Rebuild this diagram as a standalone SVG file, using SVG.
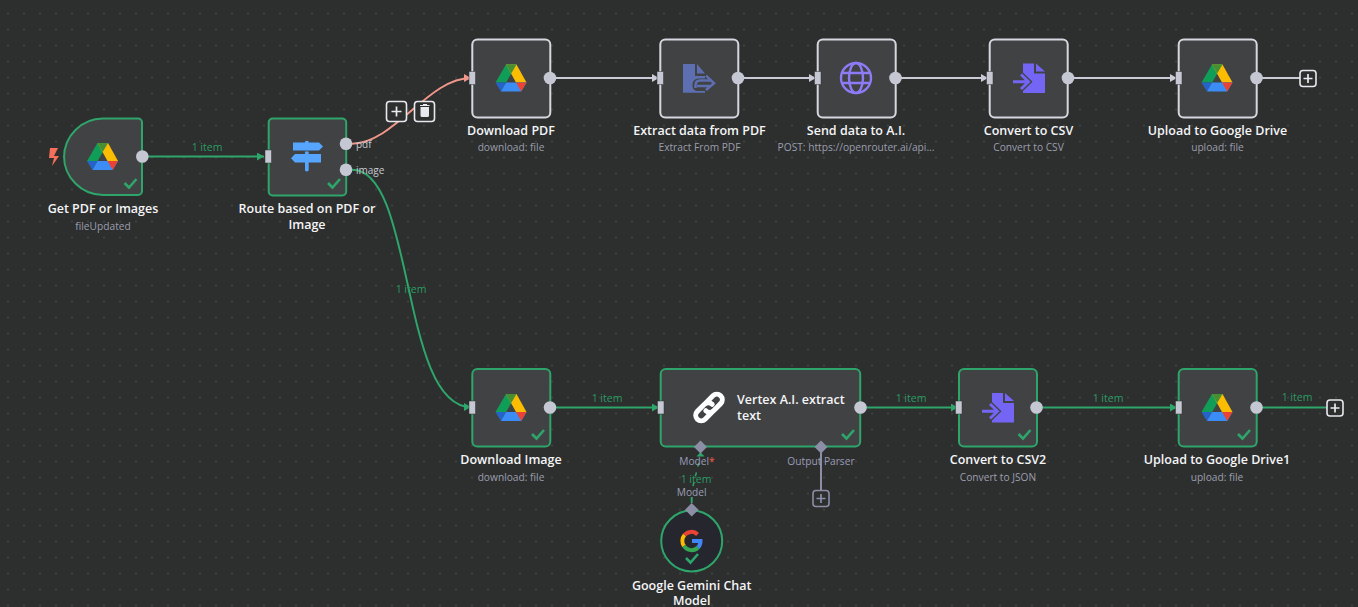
<svg xmlns="http://www.w3.org/2000/svg" width="1358" height="607" viewBox="0 0 1358 607">
<style>
text{font-family:"Open Sans","Noto Sans","Liberation Sans",sans-serif}
.card{fill:#414244;stroke:#d6d8df;stroke-width:2}
.ok{fill:#414244;stroke:#2ea56a;stroke-width:2}
.title{font-size:12.5px;font-weight:600;fill:#f4f5f7;text-anchor:middle}
.sub{font-size:10.2px;fill:#9b9fad;text-anchor:middle}
.lbl{font-size:10.2px;fill:#9a9db8;text-anchor:middle}
.item{font-size:10.5px;fill:#2a9c63;text-anchor:middle}
.port{font-size:10px;fill:#c8cad0}
.out{fill:#c5c8d3}
.in{fill:#c5c8d3;stroke:#333;stroke-width:.5}
.w{fill:none;stroke:#c9ccd6;stroke-width:2}
.g{fill:none;stroke:#2ea56a;stroke-width:2}
.check{fill:none;stroke:#2ea56a;stroke-width:2.6}
.btn{fill:#2d2e2e;stroke:#e8e9ee;stroke-width:1.6}
.pl{stroke:#e8e9ee;stroke-width:1.7;fill:none}
</style>
<defs>
<pattern id="dots" width="16" height="16" patternUnits="userSpaceOnUse" x="-1" y="4.6"><rect x="8.4" y="8.4" width="1.2" height="1.2" fill="#5c5d5e"/></pattern>
<marker id="ah-w" markerWidth="8" markerHeight="10" refX="7" refY="4" orient="auto" markerUnits="userSpaceOnUse"><path d="M0 0L7 4L0 8Z" fill="#c9ccd6"/></marker>
<marker id="ah-g" markerWidth="8" markerHeight="10" refX="7" refY="4" orient="auto" markerUnits="userSpaceOnUse"><path d="M0 0L7 4L0 8Z" fill="#2ea56a"/></marker>
<marker id="ah-r" markerWidth="8" markerHeight="10" refX="7" refY="4" orient="auto" markerUnits="userSpaceOnUse"><path d="M0 0L7 4L0 8Z" fill="#f0978a"/></marker>
<symbol id="drive" viewBox="0 0 32 28" overflow="visible">
<path d="M10.5 0H21L10.6 18H0Z" fill="#0f9d58"/>
<path d="M10.5 0H21L31 18H20.5Z" fill="#fbbc04"/>
<path d="M0 18H10.6L5.4 27Z" fill="#2563c9"/>
<path d="M10.6 18H31L25.7 27H5.4Z" fill="#3b8cf5"/>
<path d="M20.5 18H31L25.7 27Z" fill="#ea4335"/>
<path d="M10.5 0H21L15.7 9Z" fill="#0b8043" opacity=".75"/>
</symbol>
<symbol id="conv" viewBox="0 0 32 30" overflow="visible">
<path d="M10 0H21V10H32V29.500H10V27.500L19.500 18.300L10 9Z" fill="#7565f5"/>
<path d="M23 0L32 8H23Z" fill="#7565f5"/>
<path d="M0 18.300H15M8 11L15.500 18.300L8 25.500" fill="none" stroke="#7565f5" stroke-width="3"/>
</symbol>
</defs>
<rect width="1358" height="607" fill="#2d2e2e"/>
<rect width="1358" height="607" fill="url(#dots)"/>
<g id="connectors">
<path class="g" d="M148 156.500H264" marker-end="url(#ah-g)"/>
<path d="M352 143.700C395 143 428 78 471 78" fill="none" stroke="#f0978a" stroke-width="2" marker-end="url(#ah-r)"/>
<path class="g" d="M352 169.700C415 169 400 407 471 407" marker-end="url(#ah-g)"/>
<path class="w" d="M556 78H659" marker-end="url(#ah-w)"/>
<path class="w" d="M744 78H816" marker-end="url(#ah-w)"/>
<path class="w" d="M901 78H988" marker-end="url(#ah-w)"/>
<path class="w" d="M1073 78H1177" marker-end="url(#ah-w)"/>
<path class="w" d="M1262 78H1300"/>
<path class="g" d="M556 407.500H659" marker-end="url(#ah-g)"/>
<path class="g" d="M866 407.500H958" marker-end="url(#ah-g)"/>
<path class="g" d="M1042 407.500H1177" marker-end="url(#ah-g)"/>
<path class="g" d="M1262 407.500H1327"/>
<path class="g" d="M691.700 503V497"/>
<path d="M693 486L699 462" fill="none" stroke="#2ea56a" stroke-width="1.500" stroke-dasharray="4 6"/>
<path d="M696.500 456.500H704.500L700.500 452Z" fill="#2ea56a"/>
<path d="M821 452V490" fill="none" stroke="#8c8ea6" stroke-width="2"/>
<text class="item" x="207" y="150.500">1 item</text>
<text class="item" x="411" y="292.500">1 item</text>
<text class="item" x="607" y="401.500">1 item</text>
<text class="item" x="911" y="401.500">1 item</text>
<text class="item" x="1108" y="401.500">1 item</text>
<text class="item" x="1297" y="401">1 item</text>
<text class="item" x="696" y="482.500">1 item</text>
</g>
<g id="get-pdf">
<path d="M50 148L58 148L54 156L59 156L52 166L54 158L49 158Z" fill="#f5705a"/>
<path class="ok" d="M103 118.500H138a4 4 0 0 1 4 4V191a4 4 0 0 1-4 4H103a39 39 0 0 1-39-39V157.500a39 39 0 0 1 39-39Z"/>
<use href="#drive" x="87" y="143" width="32" height="28"/>
<path class="check" d="M124.500 183L129 187.500L136.500 179"/>
<circle class="out" cx="142.300" cy="156.500" r="6.300"/>
<text class="title" x="103" y="213">Get PDF or Images</text>
<text class="sub" x="103" y="230">fileUpdated</text>
</g>
<g id="route">
<rect class="ok" x="268.700" y="118.500" width="77.500" height="77" rx="4"/>
<rect class="in" x="265" y="150" width="6.500" height="13"/>
<path d="M293 142.500H305V141.500Q306.800 140 308.700 141.500V142.500H319L323 146.500L319 150.500H293Z M295 154H305V151.500H308.700V154H321V162.500H308.700V170.500Q306.800 172.500 305 170.500V162.500H295L291 158.300Z" fill="#56a6ff"/>
<path class="check" d="M328 183L332.500 187.500L340 179"/>
<circle class="out" cx="346" cy="143.700" r="6.300"/>
<circle class="out" cx="346" cy="169.700" r="6.300"/>
<text class="port" x="356" y="147.500">pdf</text>
<text class="port" x="356" y="173.500">image</text>
<text class="title" x="307" y="213"><tspan x="307">Route based on PDF or</tspan><tspan x="307" dy="16">Image</tspan></text>
</g>
<g id="edge-tools">
<rect class="btn" x="386.500" y="101.500" width="20" height="20" rx="3"/>
<path class="pl" d="M391.500 111.500H401.500M396.500 106.500V116.500"/>
<rect class="btn" x="414.500" y="101.500" width="20" height="20" rx="3"/>
<path d="M420.500 107H429V115.500a1.500 1.500 0 0 1-1.500 1.500H422a1.500 1.500 0 0 1-1.500-1.500Z M420 105H429.500V106H420Z M423 104H427V105H423Z" fill="#e8e9ee"/>
</g>
<g id="download-pdf">
<rect class="card" x="472.300" y="39.500" width="78" height="78" rx="5"/>
<rect class="in" x="469" y="71.500" width="6.500" height="13"/>
<use href="#drive" x="495.500" y="64.500" width="32" height="28"/>
<circle class="out" cx="550" cy="78" r="6.300"/>
<text class="title" x="511" y="135">Download PDF</text>
<text class="sub" x="511" y="151">download: file</text>
</g>
<g id="extract">
<rect class="card" x="660.300" y="39.500" width="78" height="78" rx="5"/>
<rect class="in" x="657" y="71.500" width="6.500" height="13"/>
<path d="M683 64H695V76H705V78.500H699C694.500 78.500 692.500 81.500 692.500 85.500C692.500 89 694.500 90.500 697 91H705V92.700H683Z M697 64L705 73.500H697Z" fill="#5d6fb0"/>
<path d="M711 80.500H700C697 80.500 695.500 82.500 695.500 85.500V88M697 86H711M706 75.700L714 83.300L706 90" fill="none" stroke="#5d6fb0" stroke-width="2.500"/>
<circle class="out" cx="738" cy="78" r="6.300"/>
<text class="title" x="699.500" y="135">Extract data from PDF</text>
<text class="sub" x="699.500" y="151">Extract From PDF</text>
</g>
<g id="send">
<rect class="card" x="817.700" y="39.500" width="78" height="78" rx="5"/>
<rect class="in" x="814.500" y="71.500" width="6.500" height="13"/>
<g fill="none" stroke="#8b7cf6" stroke-width="2.400"><circle cx="856" cy="78" r="15"/><ellipse cx="856" cy="78" rx="7" ry="15"/><path d="M842.500 73H869.500M842.500 83H869.500"/></g>
<circle class="out" cx="895.500" cy="78" r="6.300"/>
<text class="title" x="856" y="135">Send data to A.I.</text>
<text class="sub" x="856" y="151">POST: https://openrouter.ai/api...</text>
</g>
<g id="convert-csv">
<rect class="card" x="989.700" y="39.500" width="78" height="78" rx="5"/>
<rect class="in" x="986.500" y="71.500" width="6.500" height="13"/>
<use href="#conv" x="1013" y="63.500" width="32" height="30"/>
<circle class="out" cx="1068" cy="78" r="6.300"/>
<text class="title" x="1028.500" y="135">Convert to CSV</text>
<text class="sub" x="1028.500" y="151">Convert to CSV</text>
</g>
<g id="upload-drive">
<rect class="card" x="1178.700" y="39.500" width="78" height="78" rx="5"/>
<rect class="in" x="1175.500" y="71.500" width="6.500" height="13"/>
<use href="#drive" x="1201.500" y="64.500" width="32" height="28"/>
<circle class="out" cx="1256.500" cy="78" r="6.300"/>
<rect class="btn" x="1300" y="70.500" width="16" height="16" rx="3"/>
<path class="pl" d="M1303.500 78.500H1312.500M1308 74V83"/>
<text class="title" x="1217.500" y="135">Upload to Google Drive</text>
<text class="sub" x="1217.500" y="151">upload: file</text>
</g>
<g id="download-image">
<rect class="ok" x="472.300" y="369" width="78" height="77.500" rx="5"/>
<rect class="in" x="469" y="401" width="6.500" height="13"/>
<use href="#drive" x="495.500" y="394" width="32" height="28"/>
<path class="check" d="M532 434L536.500 438.500L544 430"/>
<circle class="out" cx="550" cy="407.500" r="6.300"/>
<text class="title" x="511" y="464">Download Image</text>
<text class="sub" x="511" y="481">download: file</text>
</g>
<g id="vertex">
<rect class="ok" x="660.700" y="369" width="199.500" height="77.500" rx="5"/>
<rect class="in" x="657.500" y="401" width="6.500" height="13"/>
<g transform="rotate(-45 709 407.500)" fill="none" stroke="#fff" stroke-width="5" stroke-linecap="round"><path d="M708 413H698a5.500 5.500 0 0 1 0-11H708a5.500 5.500 0 0 1 5.500 5.500"/><path d="M710 402H720a5.500 5.500 0 0 1 0 11H710a5.500 5.500 0 0 1-5.500-5.500"/></g>
<text x="737" y="404" font-size="12.5" font-weight="600" fill="#f4f5f7"><tspan x="737">Vertex A.I. extract</tspan><tspan x="737" dy="16">text</tspan></text>
<path class="check" d="M842 434L846.500 438.500L854 430"/>
<circle class="out" cx="860.500" cy="407.500" r="6.300"/>
<path d="M700.500 440.500L707 447L700.500 453.500L694 447Z" fill="#8c8ea6"/>
<path d="M821 440.500L827.500 447L821 453.500L814.500 447Z" fill="#8c8ea6"/>
<text class="lbl" x="697" y="465">Model<tspan fill="#f5594e">*</tspan></text>
<text class="lbl" x="821" y="465">Output Parser</text>
<rect x="813" y="490.500" width="16" height="16" rx="3" fill="#2d2e2e" stroke="#8c8ea6" stroke-width="1.600"/>
<path d="M816.500 498.500H825.500M821 494V503" stroke="#8c8ea6" stroke-width="1.700" fill="none"/>
</g>
<g id="convert-csv2">
<rect class="ok" x="959" y="369" width="78" height="77.500" rx="5"/>
<rect class="in" x="955.500" y="401" width="6.500" height="13"/>
<use href="#conv" x="982" y="393" width="32" height="30"/>
<path class="check" d="M1018.500 434L1023 438.500L1030.500 430"/>
<circle class="out" cx="1036.500" cy="407.500" r="6.300"/>
<text class="title" x="998" y="464">Convert to CSV2</text>
<text class="sub" x="998" y="481">Convert to JSON</text>
</g>
<g id="upload-drive1">
<rect class="ok" x="1178.700" y="369" width="78" height="77.500" rx="5"/>
<rect class="in" x="1175.500" y="401" width="6.500" height="13"/>
<use href="#drive" x="1201.500" y="394" width="32" height="28"/>
<path class="check" d="M1238 434L1242.500 438.500L1250 430"/>
<circle class="out" cx="1256.500" cy="407.500" r="6.300"/>
<rect class="btn" x="1327" y="400" width="16" height="16" rx="3"/>
<path class="pl" d="M1330.500 408H1339.500M1335 403.500V412.500"/>
<text class="title" x="1217" y="464">Upload to Google Drive1</text>
<text class="sub" x="1217" y="481">upload: file</text>
</g>
<g id="gemini">
<circle cx="691.700" cy="541" r="30.500" fill="#26262e" stroke="#2ea56a" stroke-width="2"/>
<g fill="none" stroke-width="4"><path d="M697.500 534.500A8.800 8.800 0 0 0 684.500 535" stroke="#ea4335"/><path d="M684.500 535A9 9 0 0 0 684 546" stroke="#fbbc04"/><path d="M684 546A9 9 0 0 0 698 547.500" stroke="#34a853"/><path d="M698 547.500A9 9 0 0 0 700.500 541H692" stroke="#4285f4"/></g>
<path class="check" d="M686 558L690.500 562.500L698 554"/>
<path d="M691.700 503L698.500 509.700L691.700 516.500L685 509.700Z" fill="#8c8ea6"/>
<text class="lbl" x="691.700" y="496">Model</text>
<text class="title" x="691.700" y="590"><tspan x="691.700">Google Gemini Chat</tspan><tspan x="691.700" dy="15">Model</tspan></text>
</g>
</svg>
